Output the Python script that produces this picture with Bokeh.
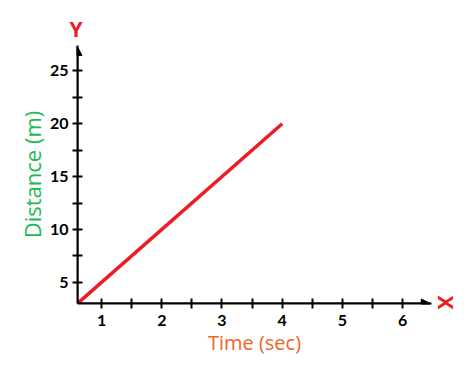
from bokeh.plotting import figure
from bokeh.models import FixedTicker, Arrow, NormalHead, Range1d, Title
from bokeh.embed import file_html
from bokeh.resources import INLINE

# data
time_sec = [0.6, 4]
distance_m = [3, 20]
x_ticks = [1, 2, 3, 4, 5, 6]
x_minor = [1.5, 2.5, 3.5, 4.5, 5.5]
y_ticks = [5, 10, 15, 20, 25]
y_minor = [7.5, 12.5, 17.5, 22.5]

X0, X1 = 0.6, 6.48
Y0, Y1 = 3, 27.4
W, H = 474, 366
FL, FB, FT, FR = 77, 303, 45, 431  # frame edges in page pixels

p = figure(width=W, height=H, output_backend="svg", toolbar_location=None,
           x_range=Range1d(X0, X1), y_range=Range1d(Y0, Y1),
           min_border_left=FL, min_border_right=W - FR, min_border_top=FT,
           min_border_bottom=H - FB)
p.grid.visible = False
p.outline_line_color = None
p.background_fill_color = "white"
p.border_fill_color = "white"

for ax, t, m in ((p.xaxis[0], x_ticks, x_minor), (p.yaxis[0], y_ticks, y_minor)):
    ax.ticker = FixedTicker(ticks=t, minor_ticks=m)
    ax.axis_line_width = 2
    ax.axis_line_color = "black"
    ax.major_tick_in = 5
    ax.major_tick_out = 5
    ax.minor_tick_in = 5
    ax.minor_tick_out = 5
    ax.major_tick_line_width = 2
    ax.minor_tick_line_width = 2
    ax.major_label_text_font = "Lato"
    ax.major_label_text_font_style = "bold"
    ax.major_label_text_font_size = "16px"
    ax.major_label_text_color = "black"
    ax.axis_label_text_font = "Open Sans"
    ax.axis_label_text_font_style = "normal"

p.xaxis.axis_label = "Time (sec)"
p.xaxis.axis_label_text_color = "#F26522"
p.xaxis.axis_label_text_font_size = "20px"
p.xaxis.major_label_standoff = 6
p.xaxis.axis_label_standoff = 0
p.yaxis.axis_label = "Distance (m)"
p.yaxis.axis_label_text_color = "#1DB954"
p.yaxis.axis_label_text_font_size = "22px"
p.yaxis.major_label_standoff = 4
p.yaxis.axis_label_standoff = 0

p.line(time_sec, distance_m, line_color="#ED1C24", line_width=3.5)

p.add_layout(Arrow(end=NormalHead(size=9, fill_color="black", line_color="black"),
                   x_start=X0, y_start=Y0, x_end=X1 - 0.02, y_end=Y0, line_width=2))
p.add_layout(Arrow(end=NormalHead(size=9, fill_color="black", line_color="black"),
                   x_start=X0, y_start=Y0, x_end=X0, y_end=Y1 - 0.1, line_width=2))

# "Y" above the vertical axis
p.add_layout(Title(text="Y", align="left", offset=-8, standoff=6, text_color="#ED1C24",
                   text_font="Open Sans", text_font_style="bold", text_font_size="21px"),
             "above")
# "X" beside the arrow tip of the horizontal axis
p.add_layout(Title(text="X", align="right", offset=-6, standoff=0, text_color="#ED1C24",
                   text_font="Open Sans", text_font_style="bold", text_font_size="21px"),
             "right")

open("out.html", "w").write(file_html(p, INLINE))
